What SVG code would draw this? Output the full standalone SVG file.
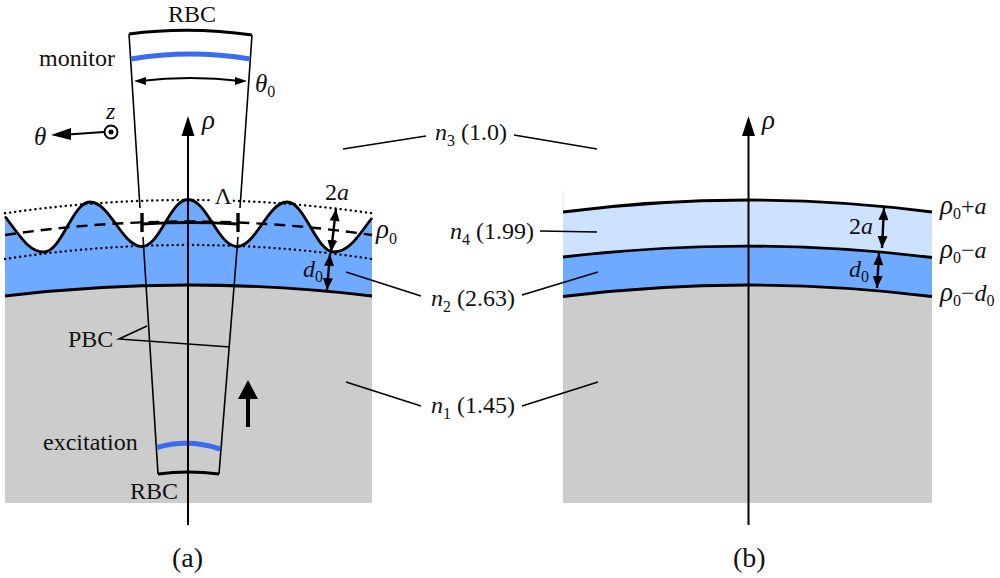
<svg xmlns="http://www.w3.org/2000/svg" width="1000" height="578" viewBox="0 0 1000 578">
<style>
text{font-family:"Liberation Serif","Times New Roman",serif;font-size:24px;fill:#111}
.i{font-style:italic}
.s{font-size:16px;font-style:normal}
.r{font-size:27px;font-style:italic}
.cap{font-size:28px}
.g{stroke:none;fill:#ccc}
.b{stroke:none;fill:#6eaaff}
.l{stroke:none;fill:#cce2ff}
.k{fill:none;stroke:#000;stroke-width:1.6}
.c{fill:none;stroke:#000;stroke-width:2.8}
.ax{fill:none;stroke:#000;stroke-width:2}
.m{fill:none;stroke:#3b6cf0;stroke-width:5}
.dot{fill:none;stroke:#000;stroke-width:2.4;stroke-dasharray:0.1 5;stroke-linecap:round}
.da{fill:none;stroke:#000;stroke-width:2.4;stroke-dasharray:11 7}
.d{fill:none;stroke:#000;stroke-width:2.4;marker-start:url(#hs);marker-end:url(#he)}
</style>
<defs>
<marker id="he" markerUnits="userSpaceOnUse" markerWidth="14" markerHeight="12" refX="12" refY="5" orient="auto"><path d="M0,0L12,5L0,10z"/></marker>
<marker id="hs" markerUnits="userSpaceOnUse" markerWidth="14" markerHeight="12" refX="0" refY="5" orient="auto"><path d="M12,0L0,5L12,10z"/></marker>
</defs>
<g id="panel-a">
<path class="g" d="M5,296Q188,274 372,296V503H5z"/>
<path class="b" d="M5,216.5C18,233 28,252 44,252C61.5,252 72.5,202 90,202C110,202 122,246.5 142,246.5C160,246.5 170,199.5 188,199.5C207,199.5 218,246.5 237,246.5C256,246.5 268,202 287,202C305,202 316,252 334,252C350,252 360,233 372,218V296Q188,274 5,296z"/>
<path class="dot" d="M5,213.3Q188,186.7 372,213.3"/>
<path class="dot" d="M5,259Q188,231 372,259"/>
<path class="da" d="M5,235Q188,208 372,235"/>
<path class="c" d="M5,216.5C18,233 28,252 44,252C61.5,252 72.5,202 90,202C110,202 122,246.5 142,246.5C160,246.5 170,199.5 188,199.5C207,199.5 218,246.5 237,246.5C256,246.5 268,202 287,202C305,202 316,252 334,252C350,252 360,233 372,218"/>
<path class="c" d="M5,296Q188,274 372,296"/>
</g>
<g id="panel-b">
<path d="M563,191V212" stroke="#e6e6e6" stroke-width="1" fill="none"/>
<path class="g" d="M563,296.5Q748,273.5 932,296.5V503H563z"/>
<path class="b" d="M563,257Q748,235 932,257.5V296.5Q748,273.5 563,296.5z"/>
<path class="l" d="M563,212Q748,188 932,212V257.5Q748,235 563,257z"/>
<path class="c" d="M563,212Q748,188 932,212"/>
<path class="c" d="M563,257Q748,235 932,257.5"/>
<path class="c" d="M563,296.5Q748,273.5 932,296.5"/>
</g>
<g id="wedge">
<path class="k" d="M129,34L140,208M143,237L158,474"/>
<path class="k" d="M252,35L240,208M238,237L219,474"/>
<path class="c" d="M129,34Q190,26 252,35"/>
<path class="c" d="M158,474Q188,470 219,474"/>
<path class="m" d="M131,59Q190,49 250,59"/>
<path class="m" d="M157,447.5Q188,438.5 220,449"/>
<path class="c" d="M142,224Q190,221 238,224"/>
<path class="c" style="stroke-width:3.4" d="M142,213V232M238,213V232"/>
</g>
<g id="connectors">
<path class="ax" d="M188,136V525"/><path d="M188,116L181.5,136H194.5z"/>
<path class="ax" d="M748.5,136V525"/><path d="M748.5,116L742,136H755z"/>
<path d="M134,81L146,77V85zM247,81L235,77V85z"/>
<path class="ax" d="M140,81Q190,75 241,81"/>
<path class="ax" d="M104,132L68,134.5"/><path d="M51,135L71,128V140z"/>
<path style="stroke:#000;stroke-width:4;fill:none" d="M248,427V396"/><path d="M248,380L238,399H258z"/>
<path class="d" d="M336,209L331,252"/>
<path class="d" d="M330,254L327,290"/>
<path class="d" d="M884,208L882,248"/>
<path class="d" d="M879,253L877,288"/>
<path class="k" d="M147,326L119,339L230,347"/>
<path class="k" d="M343,149L426,136M514,135L597,149M540,231L597,232M346,272L421,296M522,295L598,272M346,382L421,406M522,406L598,382"/>
</g>
<g id="z-axis"><circle cx="111" cy="132" r="6.5" fill="#fff" stroke="#000" stroke-width="2"/><circle cx="111" cy="132" r="2.5"/></g>
<g id="labels">
<text x="168" y="22">RBC</text>
<text x="39" y="66">monitor</text>
<text x="255" y="92" class="r" style="font-size:25px">θ<tspan class="s" dy="5">0</tspan></text>
<text x="106" y="119" class="i">z</text>
<text x="34" y="145" class="r" style="font-size:25px">θ</text>
<text x="202" y="129" class="r">ρ</text>
<rect x="212" y="190" width="20" height="16" fill="#fff"/>
<text x="214.500" y="204">Λ</text>
<text x="325" y="200">2<tspan class="i">a</tspan></text>
<text x="376" y="238" class="r">ρ<tspan class="s" dy="6">0</tspan></text>
<text x="303" y="277" class="i">d<tspan class="s" dy="5">0</tspan></text>
<text x="68" y="347">PBC</text>
<text x="43" y="450">excitation</text>
<text x="130" y="499">RBC</text>
<text x="172" y="566.500" class="cap">(a)</text>
<text x="435" y="140"><tspan class="i">n</tspan><tspan class="s" dy="6">3</tspan><tspan dy="-6"> (1.0)</tspan></text>
<text x="450" y="239"><tspan class="i">n</tspan><tspan class="s" dy="6">4</tspan><tspan dy="-6"> (1.99)</tspan></text>
<text x="431" y="306"><tspan class="i">n</tspan><tspan class="s" dy="6">2</tspan><tspan dy="-6"> (2.63)</tspan></text>
<text x="431" y="413"><tspan class="i">n</tspan><tspan class="s" dy="6">1</tspan><tspan dy="-6"> (1.45)</tspan></text>
<text x="762" y="129" class="r">ρ</text>
<text x="849" y="234">2<tspan class="i">a</tspan></text>
<text x="849" y="277" class="i">d<tspan class="s" dy="5">0</tspan></text>
<text x="940" y="214"><tspan class="r">ρ</tspan><tspan class="s" dy="5">0</tspan><tspan dy="-5">+</tspan><tspan class="i">a</tspan></text>
<text x="940" y="258"><tspan class="r">ρ</tspan><tspan class="s" dy="5">0</tspan><tspan dy="-5">−</tspan><tspan class="i">a</tspan></text>
<text x="940" y="301"><tspan class="r">ρ</tspan><tspan class="s" dy="5">0</tspan><tspan dy="-5">−</tspan><tspan class="i">d</tspan><tspan class="s" dy="5">0</tspan></text>
<text x="733" y="566.500" class="cap">(b)</text>
</g>
</svg>
